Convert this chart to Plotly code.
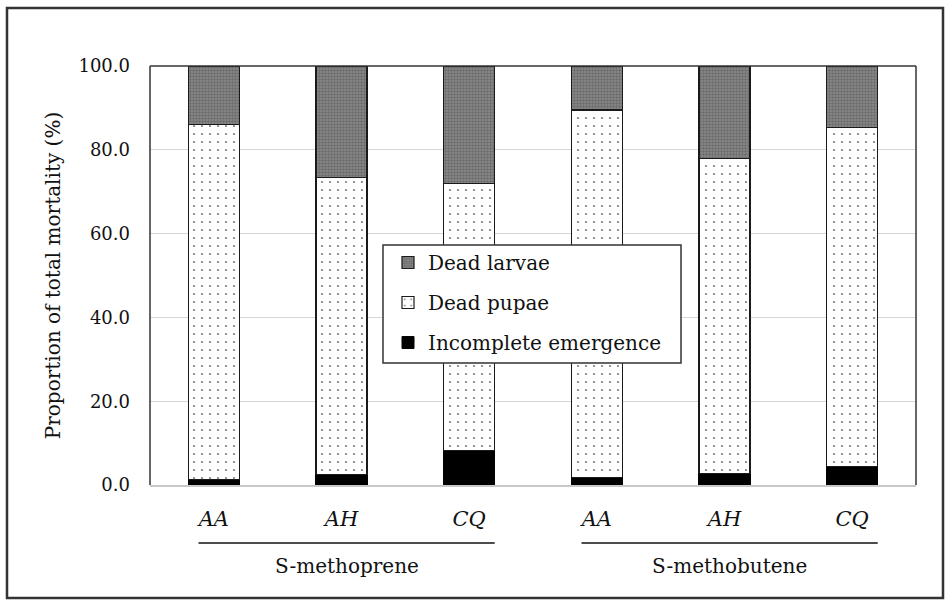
import plotly.graph_objects as go

strains = ["AA", "AH", "CQ"]
compounds = ["S-methoprene", "S-methobutene"]
incomplete = [1.4, 2.5, 8.3, 1.7, 2.8, 4.4]
dead_pupae = [84.7, 70.9, 63.7, 87.8, 75.2, 81.0]
dead_larvae = [13.9, 26.6, 28.0, 10.5, 22.0, 14.6]
y_ticks = [0, 20, 40, 60, 80, 100]

FONT = "DejaVu Serif"
W, H = 950, 607
L, R, T, B = 150, 34, 66, 122
pw, ph = W - L - R, H - T - B

def px_to_paper(x=None, y=None):
    out = []
    if x is not None:
        out.append((x - L) / pw)
    if y is not None:
        out.append((H - B - y) / ph)
    return out[0] if len(out) == 1 else out

n = len(strains) * len(compounds)
xs = list(range(n))
ticktext = ["<i>%s</i>" % s for c in compounds for s in strains]

fig = go.Figure()
fig.add_bar(x=xs, y=incomplete, name="Incomplete emergence", legendgroup="c", legendrank=3,
            marker=dict(color="#000000", line=dict(color="#000000", width=1)))
fig.add_bar(x=xs, y=dead_pupae, name="Dead pupae", legendgroup="b", legendrank=2,
            marker=dict(color="#ffffff", line=dict(color="#1a1a1a", width=1.2),
                        pattern=dict(shape=".", fgcolor="#000000", bgcolor="#ffffff",
                                     size=8, solidity=0.06)))
fig.add_bar(x=xs, y=dead_larvae, name="Dead larvae", legendgroup="a", legendrank=1,
            marker=dict(color="#6e6e6e", line=dict(color="#1a1a1a", width=1.2),
                        pattern=dict(shape=".", fgcolor="#474747", bgcolor="#8c8c8c",
                                     size=3, solidity=0.5)))

fig.update_layout(
    width=W, height=H, barmode="stack", bargap=0.6,
    margin=dict(l=L, r=R, t=T, b=B),
    paper_bgcolor="white", plot_bgcolor="white",
    font=dict(family=FONT, size=18, color="#111111"),
    showlegend=True,
    legend=dict(x=px_to_paper(x=388), y=px_to_paper(y=243), xanchor="left", yanchor="top",
                bgcolor="rgba(0,0,0,0)", borderwidth=0,
                font=dict(family=FONT, size=20, color="#111111"),
                traceorder="grouped", tracegroupgap=11,
                itemwidth=30),
    xaxis=dict(tickmode="array", tickvals=xs, ticktext=ticktext, range=[-0.5, n - 0.5],
               showgrid=False, showline=True, linecolor="#c8c8c8", linewidth=1.5,
               ticks="", ticklabelstandoff=14, zeroline=False,
               tickfont=dict(family=FONT, size=21, color="#111111")),
    yaxis=dict(range=[0, 100], tickvals=y_ticks, tickformat=".1f",
               showgrid=True, gridcolor="#d6d6d6", gridwidth=1.2,
               showline=False, zeroline=False, ticks="", ticklabelstandoff=19,
               tickfont=dict(family=FONT, size=18, color="#111111"),
               title=dict(text="Proportion of total mortality (%)", standoff=12,
                          font=dict(family=FONT, size=20, color="#111111"))),
)

# plot-area border (left, top, right)
box = dict(type="line", xref="paper", yref="paper", line=dict(color="#333333", width=1.5), layer="above")
fig.add_shape(**box, x0=0, x1=0, y0=0, y1=1)
fig.add_shape(**box, x0=0, x1=1, y0=1, y1=1)
fig.add_shape(**box, x0=1, x1=1, y0=0, y1=1)

# legend box
lx0, ly0 = px_to_paper(x=383, y=363)
lx1, ly1 = px_to_paper(x=681, y=245)
fig.add_shape(type="rect", xref="paper", yref="paper", x0=lx0, x1=lx1, y0=ly0, y1=ly1,
              fillcolor="white", line=dict(color="#333333", width=1.5), layer="above")

# outer frame
fx0, fy0 = px_to_paper(x=7, y=598)
fx1, fy1 = px_to_paper(x=943, y=8)
fig.add_shape(type="rect", xref="paper", yref="paper", x0=fx0, x1=fx1, y0=fy0, y1=fy1,
              line=dict(color="#333333", width=2.5))

# group lines and labels
ly = px_to_paper(y=543)
lab_y = px_to_paper(y=566)
k = len(strains)
for gi, comp in enumerate(compounds):
    first, last = gi * k, gi * k + k - 1
    fig.add_shape(type="line", xref="x", yref="paper", x0=first - 0.12, x1=last + 0.2,
                  y0=ly, y1=ly, line=dict(color="#111111", width=1.5))
    fig.add_annotation(x=(first + last) / 2 + 0.04, y=lab_y, xref="x", yref="paper",
                       text=comp, showarrow=False, yanchor="middle",
                       font=dict(family=FONT, size=20, color="#111111"))

fig.write_html("out.html")
